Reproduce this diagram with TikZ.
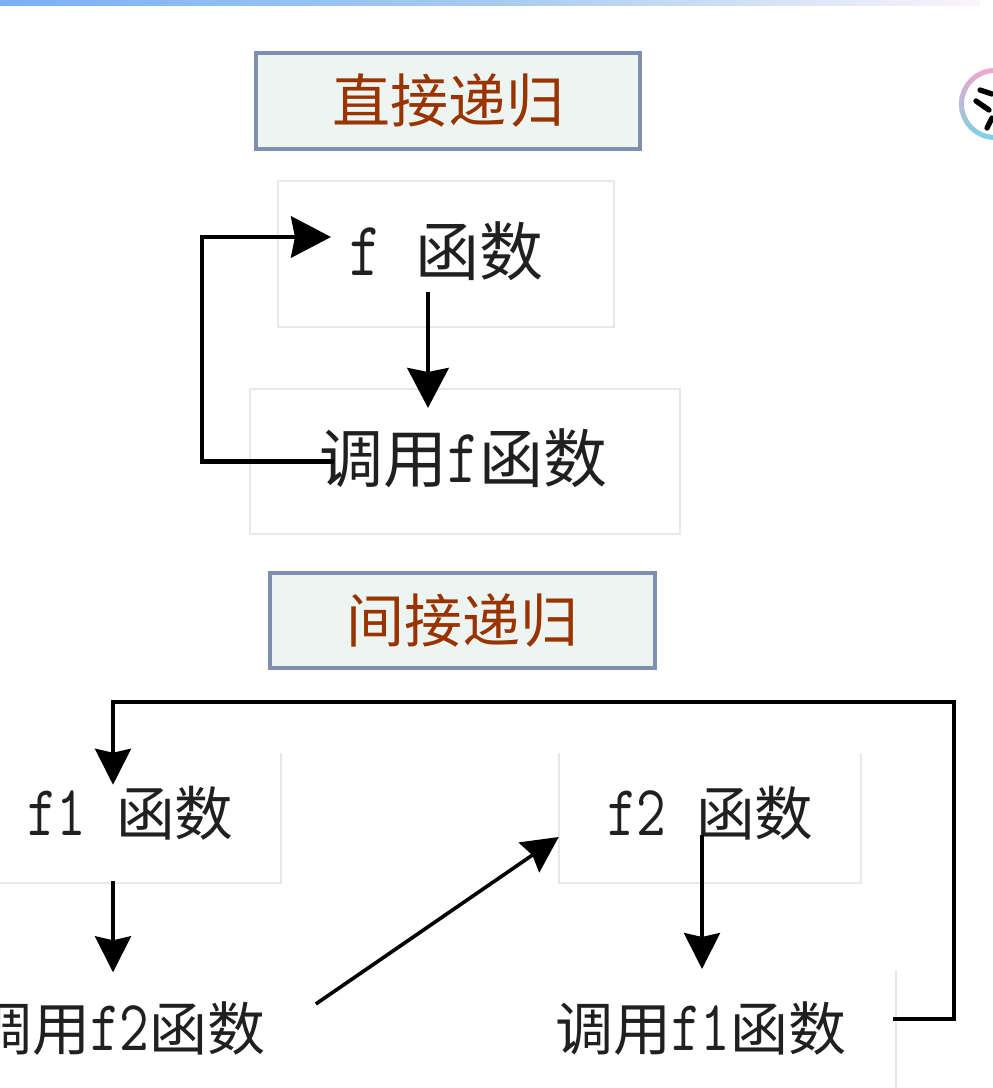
\documentclass[tikz,border=0pt]{standalone}
\usepackage{fontspec}
\usetikzlibrary{arrows.meta}
\newfontfamily\cjkf{Noto Sans CJK SC}
\newfontfamily\latf[FakeStretch=0.8]{Latin Modern Mono}
\definecolor{titleborder}{HTML}{7F8FB0}
\definecolor{titlefill}{HTML}{ECF5F1}
\definecolor{titletext}{HTML}{993300}
\definecolor{faintline}{HTML}{E8E8E8}
\definecolor{labeltext}{HTML}{202020}
\tikzset{
  titlebox/.style={draw=titleborder,line width=3pt,fill=titlefill,inner sep=0pt},
  titletxt/.style={inner sep=0pt,text=titletext,font=\cjkf\fontsize{43.5}{43.5}\selectfont,anchor=base},
  faintbox/.style={draw=faintline,line width=1.5pt,inner sep=0pt},
  openbox/.style={inner sep=0pt},
  faintedge/.style={draw=faintline,line width=1.2pt},
  lbl/.style={inner sep=0pt,anchor=base west,text=labeltext},
  bigarrow/.style={line width=3.2pt,-{Stealth[length=30pt,width=31pt,inset=3pt]}},
  smallarrow/.style={line width=2.7pt,-{Stealth[length=27pt,width=27pt,inset=3pt]}}
}
\newcommand{\bigf}[2]{\fontsize{#1}{#1}\selectfont #2}
\begin{document}
\begin{tikzpicture}[x=0.75pt,y=-0.75pt]
\useasboundingbox (0,0) rectangle (992,1088);
% top bar
\shade[left color={rgb,255:red,122;green,176;blue,248},right color={rgb,255:red,170;green,205;blue,240}] (0,0) rectangle (520,6);
\shade[left color={rgb,255:red,170;green,205;blue,240},right color={rgb,255:red,252;green,244;blue,250}] (520,0) rectangle (980,6);
% badge
\shade[top color={rgb,255:red,240;green,165;blue,205},bottom color={rgb,255:red,125;green,210;blue,230},even odd rule]
  (995,104) circle[radius=36] (995,104) circle[radius=31];
\draw[line width=4pt,line cap=round] (980,90) -- (992,94);
\draw[line width=4pt,line cap=round] (976,101) -- (989,110);
\draw[line width=4pt,line cap=round] (987,128) -- (992,118);
% title boxes
\node[titlebox,minimum width=288pt,minimum height=72pt] (t1) at (448,101) {};
\node[titletxt] (t1txt) at (448,122) {直接递归};
\node[titlebox,minimum width=289pt,minimum height=71pt] (t2) at (462.5,620.5) {};
\node[titletxt] (t2txt) at (462.5,642) {间接递归};
% direct recursion boxes
\node[faintbox,minimum width=252pt,minimum height=109.5pt] (bf) at (446,254) {};
\node[faintbox,minimum width=322.5pt,minimum height=108.75pt] (bcf) at (465,461.5) {};
\node[lbl] (lf) at (349,275) {\latf\bigf{58}{f~}\cjkf\hspace{2pt}\bigf{48}{函数}};
\node[lbl] (lcf) at (319,482) {\cjkf\bigf{48}{调用}\latf\bigf{58}{f}\cjkf\bigf{48}{函数}};
% indirect recursion boxes
\node[openbox,minimum width=240pt,minimum height=97.5pt] (bf1) at (121,818) {};
\draw[faintedge] (bf1.north east) -- (bf1.south east) -- (bf1.south west);
\node[openbox,minimum width=226.5pt,minimum height=97.5pt] (bf2) at (710,818) {};
\draw[faintedge] (bf2.north west) -- (bf2.south west) -- (bf2.south east) -- (bf2.north east);
\node[openbox,minimum width=240pt,minimum height=93pt] (bcf1) at (736,1032) {};
\draw[faintedge] (bcf1.north east) -- (bcf1.south east);
\node[lbl] (lf1) at (27,835) {\latf\bigf{54}{f1~}\cjkf\hspace{0pt}\bigf{44}{函数}};
\node[lbl] (lf2) at (607,835) {\latf\bigf{54}{f2~}\cjkf\hspace{0pt}\bigf{44}{函数}};
\node[lbl] (lcf2) at (-26,1050) {\cjkf\bigf{43.5}{调用}\latf\bigf{54}{f2}\cjkf\bigf{43.5}{函数}};
\node[lbl] (lcf1) at (555,1050) {\cjkf\bigf{43.5}{调用}\latf\bigf{54}{f1}\cjkf\bigf{43.5}{函数}};
% direct connectors
\draw[bigarrow] ([shift={(85,0)}]bcf.west) -- ++(-132,0) |- ([shift={(54,-17)}]bf.west);
\draw[bigarrow] ([shift={(-18,38)}]bf.center) -- ([shift={(-37,-53.5)}]bcf.center);
% indirect connectors
\draw[smallarrow] ([shift={(-3,-13)}]bcf1.east) -- ++(61,0) -- ++(0,-317) -| ([shift={(-8,32)}]bf1.north);
\draw[smallarrow] ([shift={(-8,-2)}]bf1.south) -- ([shift={(-8,89)}]bf1.south);
\draw[smallarrow] ([shift={(50,3)}]lcf2.north east) -- ([shift={(0,19)}]bf2.west);
\draw[smallarrow] ([shift={(-8,17)}]bf2.center) -- ([shift={(-34,-63)}]bcf1.center);
\end{tikzpicture}
\end{document}
